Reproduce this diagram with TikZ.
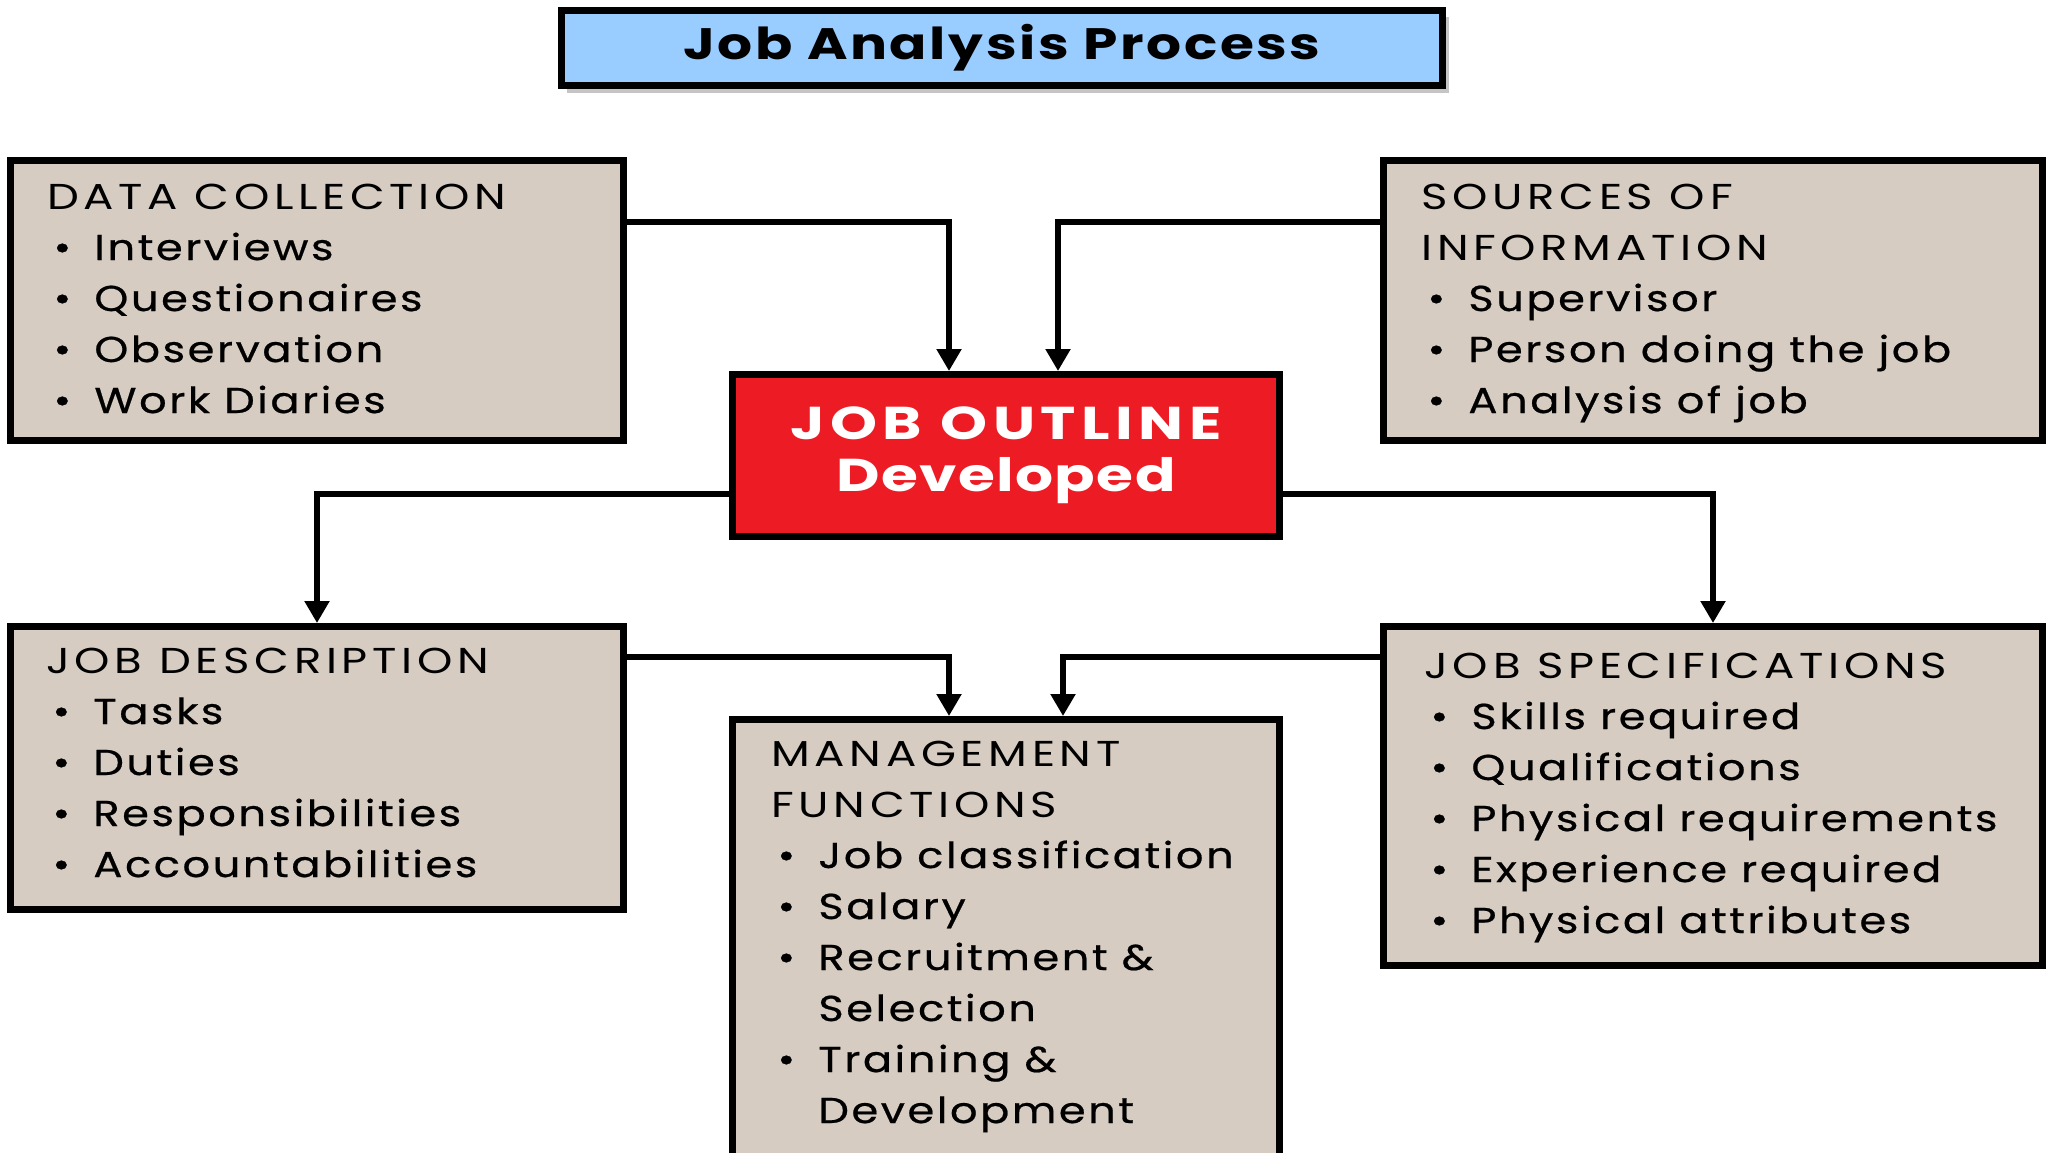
\documentclass[tikz,border=0pt]{standalone}
\usepackage{fontspec}
\setmainfont{Poppins}
\newfontfamily\headfont{Poppins}[FakeStretch=1.25,LetterSpace=13]
\newfontfamily\itemfont{Poppins}[FakeStretch=1.2,LetterSpace=7,FakeBold=0.6]
\newfontfamily\titlefont{Poppins}[FakeStretch=1.25,LetterSpace=6]
\newfontfamily\outfontA{Poppins}[FakeStretch=1.3,LetterSpace=12]
\newfontfamily\outfontB{Poppins}[FakeStretch=1.3,LetterSpace=3]
\usetikzlibrary{arrows.meta,shadows}
\definecolor{boxtan}{RGB}{214,204,193}
\definecolor{skyb}{RGB}{153,204,255}
\definecolor{jred}{RGB}{237,28,36}
\newcommand{\hd}[1]{{\headfont #1}}
\newcommand{\itm}[1]{{\itemfont\makebox[15pt][c]{\textbullet}\hspace{8.5pt}#1}}
\newcommand{\cnt}[1]{{\itemfont\hspace{23.5pt}#1}}
\begin{document}
\begin{tikzpicture}[x=0.5pt,y=-0.5pt,
  box/.style={draw=black,line width=3.3pt,fill=boxtan,anchor=north west,inner sep=0pt},
  conn/.style={line width=2.6pt,-{Triangle[length=11pt,width=12pt]}},
  txt/.style={anchor=base west,inner sep=0pt,font=\fontsize{18}{25.5}\selectfont},
]
\useasboundingbox (0,0) rectangle (2048,1152);
\fill[white] (0,0) rectangle (2048,1152);

% boxes
\node[draw=black,line width=3.3pt,fill=skyb,minimum width=440.7pt,minimum height=37.7pt,inner sep=0pt,
  drop shadow={shadow xshift=3pt,shadow yshift=-3.5pt,opacity=0.45,fill=gray},
  font=\fontsize{22}{26}\selectfont\titlefont\bfseries] (title) at (1002,48) {Job Analysis Process};
\node[box,minimum width=306.7pt,minimum height=140.2pt] (dc) at (7,157) {};
\node[box,minimum width=329.7pt,minimum height=140.2pt] (src) at (1380,157) {};
\node[box,fill=jred,minimum width=273.7pt,minimum height=81.2pt,align=center,text=white,
  font=\fontsize{23}{26}\selectfont\bfseries] (out) at (729,371)
  {{\outfontA\bfseries JOB OUTLINE}\\{\outfontB\bfseries Developed}};
\node[box,minimum width=306.7pt,minimum height=141.7pt] (jd) at (7,623) {};
\node[box,minimum width=273.7pt,minimum height=230pt] (mg) at (729,716) {};
\node[box,minimum width=329.7pt,minimum height=169.7pt] (js) at (1380,623) {};

% texts
\node[txt] (dct) at (47,209) {\begin{tabular}[t]{@{}l@{}}\hd{DATA COLLECTION}\\
  \itm{Interviews}\\ \itm{Questionaires}\\ \itm{Observation}\\ \itm{Work Diaries}\end{tabular}};
\node[txt] (srct) at (1421,209) {\begin{tabular}[t]{@{}l@{}}\hd{SOURCES OF}\\ \hd{INFORMATION}\\
  \itm{Supervisor}\\ \itm{Person doing the job}\\ \itm{Analysis of job}\end{tabular}};
\node[txt] (jdt) at (46,673) {\begin{tabular}[t]{@{}l@{}}\hd{JOB DESCRIPTION}\\
  \itm{Tasks}\\ \itm{Duties}\\ \itm{Responsibilities}\\ \itm{Accountabilities}\end{tabular}};
\node[txt] (jst) at (1424,678) {\begin{tabular}[t]{@{}l@{}}\hd{JOB SPECIFICATIONS}\\
  \itm{Skills required}\\ \itm{Qualifications}\\ \itm{Physical requirements}\\
  \itm{Experience required}\\ \itm{Physical attributes}\end{tabular}};
\node[txt] (mgt) at (771,766) {\begin{tabular}[t]{@{}l@{}}\hd{MANAGEMENT}\\ \hd{FUNCTIONS}\\
  \itm{Job classification}\\ \itm{Salary}\\ \itm{Recruitment \&}\\ \cnt{Selection}\\
  \itm{Training \&}\\ \cnt{Development}\end{tabular}};

% connectors
\draw[conn] ([yshift=-32.5pt]dc.north east) -| ([xshift=-28.5pt]out.north);
\draw[conn] ([yshift=-32.5pt]src.north west) -| ([xshift=26pt]out.north);
\draw[conn] ([yshift=-19.25pt]out.west) -| (jd.north);
\draw[conn] ([yshift=-19.25pt]out.east) -| (js.north);
\draw[conn] ([yshift=-17pt]jd.north east) -| ([xshift=-28.5pt]mg.north);
\draw[conn] ([yshift=-17pt]js.north west) -| ([xshift=28.5pt]mg.north);
\end{tikzpicture}
\end{document}
